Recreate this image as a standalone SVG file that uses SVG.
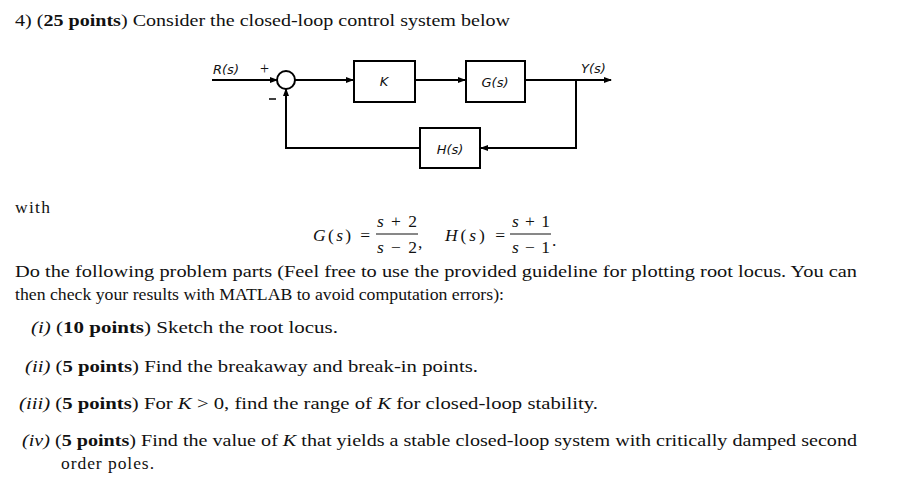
<svg xmlns="http://www.w3.org/2000/svg" width="900" height="499" viewBox="0 0 900 499">
<style>
text{font-family:"Liberation Serif",serif;font-size:17.5px;fill:#111}
.d{font-family:"DejaVu Sans","Liberation Sans",sans-serif;font-style:italic;font-size:13px}
.b{font-weight:bold}
.i{font-style:italic}
.box{fill:#fff;stroke:#000;stroke-width:2}
.ln{fill:none;stroke:#000;stroke-width:2}
</style>
<defs><marker id="a" markerWidth="8" markerHeight="8" refX="7" refY="4" orient="auto" markerUnits="userSpaceOnUse"><path d="M0,1 L8,4 L0,7 Z" fill="#000"/></marker></defs>
<rect width="900" height="499" fill="#fff"/>
<text x="15" y="26" textLength="495" lengthAdjust="spacingAndGlyphs">4) (<tspan class="b">25 points</tspan>) Consider the closed-loop control system below</text>
<g id="connectors">
<path class="ln" d="M212,80 H277" marker-end="url(#a)"/>
<path class="ln" d="M295,80 H353" marker-end="url(#a)"/>
<path class="ln" d="M415,80 H465" marker-end="url(#a)"/>
<path class="ln" d="M525,80 H611" marker-end="url(#a)"/>
<path class="ln" d="M576,80 V148 H481" marker-end="url(#a)"/>
<path class="ln" d="M420,148 H286 V89" marker-end="url(#a)"/>
</g>
<g id="sum"><circle cx="286" cy="80" r="9" fill="#fff" stroke="#000" stroke-width="2"/>
<text x="260" y="74" style="font-size:16px">+</text><line x1="269" y1="99" x2="276" y2="99" stroke="#000" stroke-width="1.5"/></g>
<g id="R"><text class="d" x="213" y="74">R(s)</text></g>
<g id="Y"><text class="d" x="581" y="73">Y(s)</text></g>
<g id="K"><rect class="box" x="354" y="61" width="61" height="41"/><text class="d" x="384" y="86" text-anchor="middle">K</text></g>
<g id="G"><rect class="box" x="466" y="61" width="59" height="41"/><text class="d" x="495" y="87" text-anchor="middle">G(s)</text></g>
<g id="H"><rect class="box" x="420" y="128" width="60" height="40"/><text class="d" x="450" y="154" text-anchor="middle">H(s)</text></g>
<text x="15" y="213" textLength="35">with</text>
<text x="313" y="241" textLength="57"><tspan class="i">G</tspan>(<tspan class="i">s</tspan>) =</text>
<text x="377" y="227" textLength="40"><tspan class="i">s</tspan> + 2</text>
<line x1="376" y1="234" x2="418" y2="234" stroke="#111" stroke-width="1"/>
<text x="377" y="253" textLength="40"><tspan class="i">s</tspan> − 2</text><text x="418" y="248">,</text>
<text x="445" y="241" textLength="60"><tspan class="i">H</tspan>(<tspan class="i">s</tspan>) =</text>
<text x="512" y="227" textLength="38"><tspan class="i">s</tspan> + 1</text>
<line x1="510" y1="234" x2="551" y2="234" stroke="#111" stroke-width="1"/>
<text x="512" y="253" textLength="38"><tspan class="i">s</tspan> − 1</text><text x="552" y="246">.</text>
<text x="15" y="277" textLength="842" lengthAdjust="spacingAndGlyphs">Do the following problem parts (Feel free to use the provided guideline for plotting root locus. You can</text>
<text x="15" y="300" textLength="489" lengthAdjust="spacingAndGlyphs">then check your results with MATLAB to avoid computation errors):</text>
<text x="31" y="333" textLength="307" lengthAdjust="spacingAndGlyphs"><tspan class="i">(i)</tspan>  (<tspan class="b">10 points</tspan>) Sketch the root locus.</text>
<text x="25" y="372" textLength="453" lengthAdjust="spacingAndGlyphs"><tspan class="i">(ii)</tspan>  (<tspan class="b">5 points</tspan>) Find the breakaway and break-in points.</text>
<text x="19" y="409" textLength="579" lengthAdjust="spacingAndGlyphs"><tspan class="i">(iii)</tspan>  (<tspan class="b">5 points</tspan>) For <tspan class="i">K</tspan> &gt; 0, find the range of <tspan class="i">K</tspan> for closed-loop stability.</text>
<text x="22" y="446" textLength="835" lengthAdjust="spacingAndGlyphs"><tspan class="i">(iv)</tspan>  (<tspan class="b">5 points</tspan>) Find the value of <tspan class="i">K</tspan> that yields a stable closed-loop system with critically damped second</text>
<text x="61" y="469" textLength="93">order poles.</text>
</svg>
